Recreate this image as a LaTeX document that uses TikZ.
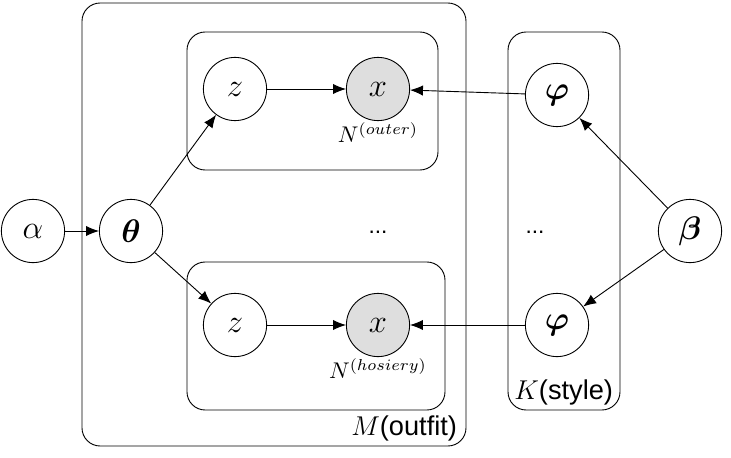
\documentclass[tikz,border=0pt]{standalone}
\usepackage{amsmath}
\usepackage{bm}
\usepackage{fontspec}
\setmainfont{Liberation Sans}
\usetikzlibrary{positioning}
\usetikzlibrary{arrows.meta}

\tikzset{
  var/.style={draw=black, circle, minimum size=0.98cm, inner sep=0pt, font=\Large},
  obs/.style={var, fill=black!13},
  plate/.style={draw=black, rounded corners=8pt},
  edge/.style={draw=black, -{Latex[length=2mm,width=1.6mm]}}
}

\begin{document}
\begin{tikzpicture}[x=0.0155cm, y=-0.0155cm]
    \useasboundingbox (0,0) rectangle (731,457);
    % plates
    \draw[plate] (82,3) rectangle (466,446);
    \draw[plate] (187,32) rectangle (438,170);
    \draw[plate] (187,262) rectangle (445,410);
    \draw[plate] (508,32) rectangle (620,410);
    \node[anchor=south east, inner sep=2pt, font=\large] (Mlab) at (462,446) {$M$(outfit)};
    \node[anchor=south east, inner sep=2pt, font=\large] (Klab) at (618,410) {$K$(style)};
    % variables
    \node[var] (alpha) at (33,231) {$\alpha$};
    \node[var] (theta) at (131,231) {$\bm{\theta}$};
    \node[var] (z1) at (235,89) {$z$};
    \node[obs] (x1) at (378,89) {$x$};
    \node[var] (z2) at (235,325) {$z$};
    \node[obs] (x2) at (378,325) {$x$};
    \node[var] (phi1) at (557,95) {$\bm{\varphi}$};
    \node[var] (phi2) at (557,325) {$\bm{\varphi}$};
    \node[var] (beta) at (690,231) {$\bm{\beta}$};
    \node[below=-3pt of x1] (n1) {$N^{(outer)}$};
    \node[below=-3pt of x2] (n2) {$N^{(hosiery)}$};
    \node (dots1) at (378,232) {...};
    \node (dots2) at (535,232) {...};
    % edges
    \draw[edge] (alpha) -- (theta);
    \draw[edge] (theta) -- (z1);
    \draw[edge] (theta) -- (z2);
    \draw[edge] (z1) -- (x1);
    \draw[edge] (z2) -- (x2);
    \draw[edge] (phi1) -- (x1);
    \draw[edge] (phi2) -- (x2);
    \draw[edge] (beta) -- (phi1);
    \draw[edge] (beta) -- (phi2);
  \end{tikzpicture}
\end{document}
